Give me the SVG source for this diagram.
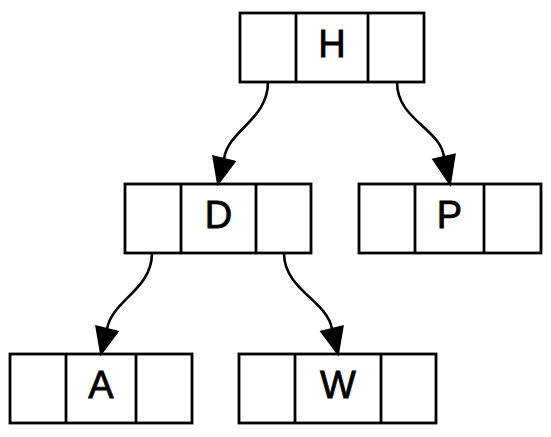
<svg xmlns="http://www.w3.org/2000/svg" width="551" height="437" viewBox="0 0 551 437">
<style>
.cell{fill:none;stroke:#000;stroke-width:2.8}
.lbl{font-family:"Liberation Sans",Arial,sans-serif;font-size:38px;text-anchor:middle;fill:#000;stroke:#000;stroke-width:0.8}
.edge{fill:none;stroke:#000;stroke-width:2.6}
.head{fill:#000;stroke:#000;stroke-width:2}
</style>
<rect width="551" height="437" fill="#fff"/>
<g id="node-H">
<rect class="cell" x="240" y="13" width="184" height="69"/>
<line class="cell" x1="296" y1="13" x2="296" y2="82"/>
<line class="cell" x1="368" y1="13" x2="368" y2="82"/>
<text class="lbl" x="332" y="57">H</text>
</g>
<g id="node-D">
<rect class="cell" x="125" y="184" width="186" height="69"/>
<line class="cell" x1="181" y1="184" x2="181" y2="253"/>
<line class="cell" x1="256" y1="184" x2="256" y2="253"/>
<text class="lbl" x="218.5" y="227.5">D</text>
</g>
<g id="node-P">
<rect class="cell" x="359" y="184" width="182" height="69"/>
<line class="cell" x1="415" y1="184" x2="415" y2="253"/>
<line class="cell" x1="484" y1="184" x2="484" y2="253"/>
<text class="lbl" x="449.5" y="227.5">P</text>
</g>
<g id="node-A">
<rect class="cell" x="10" y="354" width="182" height="69"/>
<line class="cell" x1="66" y1="354" x2="66" y2="423"/>
<line class="cell" x1="136" y1="354" x2="136" y2="423"/>
<text class="lbl" x="101" y="397.5">A</text>
</g>
<g id="node-W">
<rect class="cell" x="239" y="354" width="197" height="69"/>
<line class="cell" x1="295" y1="354" x2="295" y2="423"/>
<line class="cell" x1="381" y1="354" x2="381" y2="423"/>
<text class="lbl" x="338" y="397.5">W</text>
</g>
<g id="connectors">
<path class="edge" d="M268,82 C268,120 228,130 224,159"/>
<polygon class="head" points="218,184 234.7,161.6 213.3,156.4"/>
<path class="edge" d="M397,82 C397,120 440,128 444,157"/>
<polygon class="head" points="450,184 454.7,154.6 433.3,159.4"/>
<path class="edge" d="M152,253 C152,290 112,300 107,329"/>
<polygon class="head" points="101,354 117.7,331.6 96.3,326.4"/>
<path class="edge" d="M284,253 C284,290 327,300 332,329"/>
<polygon class="head" points="338,354 342.7,326.4 321.3,331.6"/>
</g>
</svg>
